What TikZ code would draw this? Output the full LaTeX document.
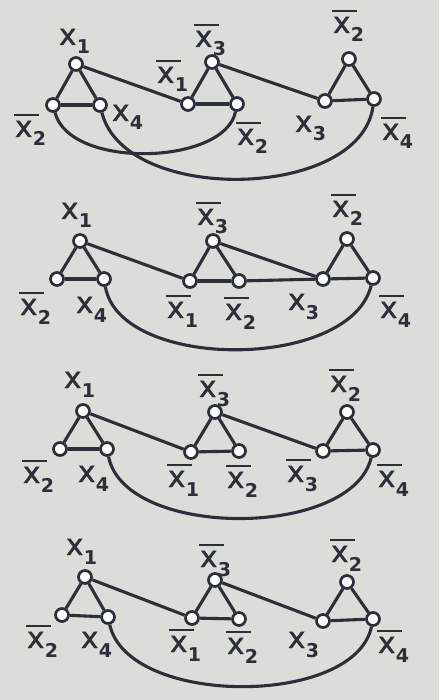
\documentclass[tikz,border=0pt]{standalone}
\usepackage{fontspec}
\setmainfont{DejaVu Sans}
\newfontfamily\xf{DejaVu Sans}[FakeBold=1.2]
\definecolor{ink}{HTML}{2B2F3B}
\definecolor{bg}{HTML}{DCDCD8}
\newcommand\vx[1]{{\xf\fontsize{29.5}{29.5}\selectfont x}\kern0.3pt\raisebox{-9pt}{\fontsize{19}{19}\selectfont\bfseries #1}}
\newcommand\nx[1]{\rlap{\kern-1pt\raisebox{21pt}{\rule{25pt}{2.4pt}}}\vx{#1}}
\begin{document}
\begin{tikzpicture}[x=1pt,y=-1pt,
  v/.style={circle,draw=ink,fill=white,line width=2.7pt,minimum size=13pt,inner sep=0pt},
  e/.style={draw=ink,line width=3.1pt},
  lab/.style={text=ink,inner sep=0pt,outer sep=0pt,anchor=base west}]
\fill[bg] (0,0) rectangle (439,700);
\useasboundingbox (0,0) rectangle (439,700);
% ---------- panel 1 ----------
\node[v] (a1t) at (76,64) {};
\node[v] (a1l) at (53,105) {};
\node[v] (a1r) at (100,105) {};
\node[v] (b1t) at (212,62) {};
\node[v] (b1l) at (188,104) {};
\node[v] (b1r) at (237,104) {};
\node[v] (c1t) at (349,59) {};
\node[v] (c1l) at (325,101) {};
\node[v] (c1r) at (374,99) {};
\draw[e] (a1t) -- (a1l); \draw[e] (a1l) -- (a1r); \draw[e] (a1r) -- (a1t);
\draw[e] (b1t) -- (b1l); \draw[e] (b1l) -- (b1r); \draw[e] (b1r) -- (b1t);
\draw[e] (c1t) -- (c1l); \draw[e] (c1l) -- (c1r); \draw[e] (c1r) -- (c1t);
\draw[e] (a1t) -- (b1l);
\draw[e] (b1t) -- (c1l);
\draw[e] (a1l) .. controls (70,170) and (225,165) .. (b1r);
\draw[e] (a1r) .. controls (125,205) and (360,200) .. (c1r);
\node[lab] (p1x1) at (59,45) {\vx{1}};
\node[lab] (p1x2) at (15,137) {\nx{2}};
\node[lab] (p1x4) at (112,121) {\vx{4}};
\node[lab] (p1y1) at (157,83) {\nx{1}};
\node[lab] (p1y3) at (195,47) {\nx{3}};
\node[lab] (p1y2) at (237,145) {\nx{2}};
\node[lab] (p1x3) at (295,132) {\vx{3}};
\node[lab] (p1z2) at (333,33) {\nx{2}};
\node[lab] (p1z4) at (382,140) {\nx{4}};
% ---------- panel 2 ----------
\node[v] (a2t) at (80,241) {};
\node[v] (a2l) at (57,279) {};
\node[v] (a2r) at (104,279) {};
\node[v] (b2t) at (213,241) {};
\node[v] (b2l) at (190,281) {};
\node[v] (b2r) at (239,281) {};
\node[v] (c2t) at (347,239) {};
\node[v] (c2l) at (323,279) {};
\node[v] (c2r) at (373,278) {};
\draw[e] (a2t) -- (a2l); \draw[e] (a2l) -- (a2r); \draw[e] (a2r) -- (a2t);
\draw[e] (b2t) -- (b2l); \draw[e] (b2l) -- (b2r); \draw[e] (b2r) -- (b2t);
\draw[e] (c2t) -- (c2l); \draw[e] (c2l) -- (c2r); \draw[e] (c2r) -- (c2t);
\draw[e] (a2t) -- (b2l);
\draw[e] (b2t) -- (c2l);
\draw[e] (b2r) -- (c2l);
\draw[e] (a2r) .. controls (120,371) and (350,371) .. (c2r);
\node[lab] (p2x1) at (61,219) {\vx{1}};
\node[lab] (p2x2) at (20,315) {\nx{2}};
\node[lab] (p2x4) at (76,313) {\vx{4}};
\node[lab] (p2y1) at (167,318) {\nx{1}};
\node[lab] (p2y2) at (225,320) {\nx{2}};
\node[lab] (p2x3) at (288,310) {\vx{3}};
\node[lab] (p2z2) at (332,217) {\nx{2}};
\node[lab] (p2z4) at (380,318) {\nx{4}};
\node[lab] (p2y3) at (197,225) {\nx{3}};
% ---------- panel 3 ----------
\node[v] (a3t) at (83,411) {};
\node[v] (a3l) at (60,449) {};
\node[v] (a3r) at (107,449) {};
\node[v] (b3t) at (215,412) {};
\node[v] (b3l) at (191,452) {};
\node[v] (b3r) at (239,451) {};
\node[v] (c3t) at (347,412) {};
\node[v] (c3l) at (323,451) {};
\node[v] (c3r) at (373,450) {};
\draw[e] (a3t) -- (a3l); \draw[e] (a3l) -- (a3r); \draw[e] (a3r) -- (a3t);
\draw[e] (b3t) -- (b3l); \draw[e] (b3l) -- (b3r); \draw[e] (b3r) -- (b3t);
\draw[e] (c3t) -- (c3l); \draw[e] (c3l) -- (c3r); \draw[e] (c3r) -- (c3t);
\draw[e] (a3t) -- (b3l);
\draw[e] (b3t) -- (c3l);
\draw[e] (a3r) .. controls (125,539) and (352,539) .. (c3r);
\node[lab] (p3x1) at (64,388) {\vx{1}};
\node[lab] (p3x2) at (23,483) {\nx{2}};
\node[lab] (p3x4) at (78,482) {\vx{4}};
\node[lab] (p3y1) at (168,487) {\nx{1}};
\node[lab] (p3y2) at (227,488) {\nx{2}};
\node[lab] (p3x3) at (287,482) {\nx{3}};
\node[lab] (p3z2) at (330,392) {\nx{2}};
\node[lab] (p3z4) at (378,487) {\nx{4}};
\node[lab] (p3y3) at (199,397) {\nx{3}};
% ---------- panel 4 ----------
\node[v] (a4t) at (85,577) {};
\node[v] (a4l) at (62,615) {};
\node[v] (a4r) at (108,617) {};
\node[v] (b4t) at (215,580) {};
\node[v] (b4l) at (192,618) {};
\node[v] (b4r) at (239,619) {};
\node[v] (c4t) at (347,582) {};
\node[v] (c4l) at (323,621) {};
\node[v] (c4r) at (373,619) {};
\draw[e] (a4t) -- (a4l); \draw[e] (a4l) -- (a4r); \draw[e] (a4r) -- (a4t);
\draw[e] (b4t) -- (b4l); \draw[e] (b4l) -- (b4r); \draw[e] (b4r) -- (b4t);
\draw[e] (c4t) -- (c4l); \draw[e] (c4l) -- (c4r); \draw[e] (c4r) -- (c4t);
\draw[e] (a4t) -- (b4l);
\draw[e] (b4t) -- (c4l);
\draw[e] (a4r) .. controls (128,707) and (355,707) .. (c4r);
\node[lab] (p4x1) at (66,555) {\vx{1}};
\node[lab] (p4x2) at (27,648) {\nx{2}};
\node[lab] (p4x4) at (81,648) {\vx{4}};
\node[lab] (p4y1) at (170,652) {\nx{1}};
\node[lab] (p4y2) at (227,654) {\nx{2}};
\node[lab] (p4x3) at (288,648) {\vx{3}};
\node[lab] (p4z2) at (331,562) {\nx{2}};
\node[lab] (p4z4) at (378,653) {\nx{4}};
\node[lab] (p4y3) at (200,567) {\nx{3}};
\end{tikzpicture}
\end{document}
